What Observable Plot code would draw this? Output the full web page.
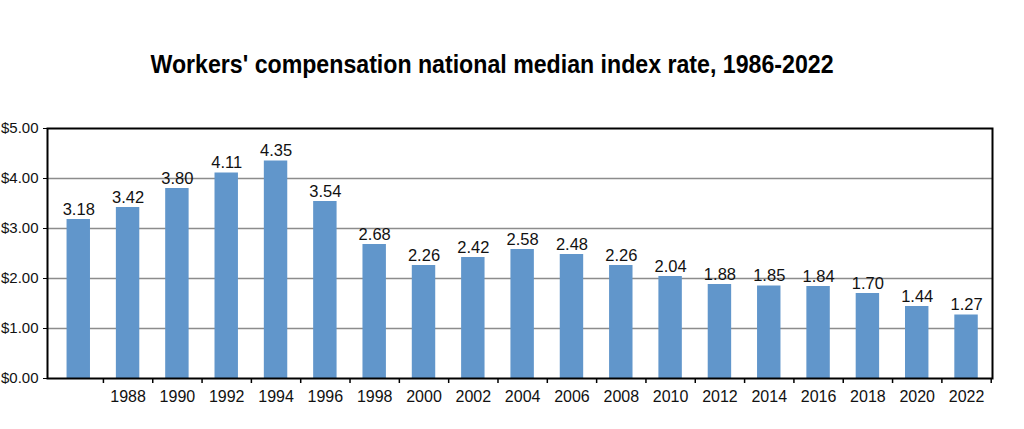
<!DOCTYPE html>
<html>
<head>
<meta charset="utf-8">
<script src="https://cdn.jsdelivr.net/npm/d3@7"></script>
<script src="https://cdn.jsdelivr.net/npm/@observablehq/plot@0.6"></script>
<style>
  html, body { margin: 0; padding: 0; background: #fff; }
  #chart svg { display: block; }
</style>
</head>
<body>
<div id="chart"></div>
<script>
const title = "Workers' compensation national median index rate, 1986-2022";
const years = [1986, 1988, 1990, 1992, 1994, 1996, 1998, 2000, 2002, 2004, 2006, 2008, 2010, 2012, 2014, 2016, 2018, 2020, 2022];
const rates = [3.18, 3.42, 3.80, 4.11, 4.35, 3.54, 2.68, 2.26, 2.42, 2.58, 2.48, 2.26, 2.04, 1.88, 1.85, 1.84, 1.70, 1.44, 1.27];
const yTicks = [0, 1, 2, 3, 4, 5];
const gridTicks = [1, 2, 3, 4];
const xLabelYears = years.slice(1);
const xTickMarks = [1987, 1989, 1991, 1993, 1995, 1997, 1999, 2001, 2003, 2005, 2007, 2009, 2011, 2013, 2015, 2017, 2019, 2021, 2023];

const data = years.map((year, i) => ({year, rate: rates[i]}));

const chart = Plot.plot({
  width: 1024,
  height: 429,
  marginTop: 128,
  marginBottom: 51,
  marginLeft: 47,
  marginRight: 32,
  style: {fontFamily: "'Liberation Sans', Arial, sans-serif", color: "#111", background: "#fff"},
  x: {domain: [1985, 2023], range: [53.6, 990.7], label: null},
  y: {domain: [0, 5], label: null},
  marks: [
    Plot.gridY(gridTicks, {stroke: "#8c8c8c", strokeOpacity: 1, strokeWidth: 1.4}),
    Plot.rectY(data, {x1: d => d.year - 0.475, x2: d => d.year + 0.475, y: "rate", fill: "#6196CB"}),
    Plot.frame({stroke: "#000", strokeWidth: 2}),
    Plot.axisY(yTicks, {tickFormat: d => "$" + d.toFixed(2), tickSize: 4, tickPadding: 5, fontSize: 15, stroke: "#000", fill: "#111"}),
    Plot.axisX(xTickMarks, {tickFormat: () => "", tickSize: 5, stroke: "#000", strokeWidth: 1.5}),
    Plot.axisX(xLabelYears, {tickFormat: d => String(d), tickSize: 0, tickPadding: 12, fontSize: 16, fill: "#111"}),
    Plot.text(data, {x: "year", y: "rate", text: d => d.rate.toFixed(2), dy: -5, lineAnchor: "bottom", fontSize: 16.5, fill: "#111"}),
    Plot.text([title], {frameAnchor: "top", dx: -28, dy: -63.5, lineAnchor: "middle", fontSize: 26, fontWeight: "bold", fill: "#000"})
  ]
});
document.getElementById("chart").append(chart);
chart.querySelectorAll("text").forEach(t => {
  if (t.textContent === title) {
    t.setAttribute("textLength", "683");
    t.setAttribute("lengthAdjust", "spacingAndGlyphs");
  }
});
</script>
</body>
</html>
